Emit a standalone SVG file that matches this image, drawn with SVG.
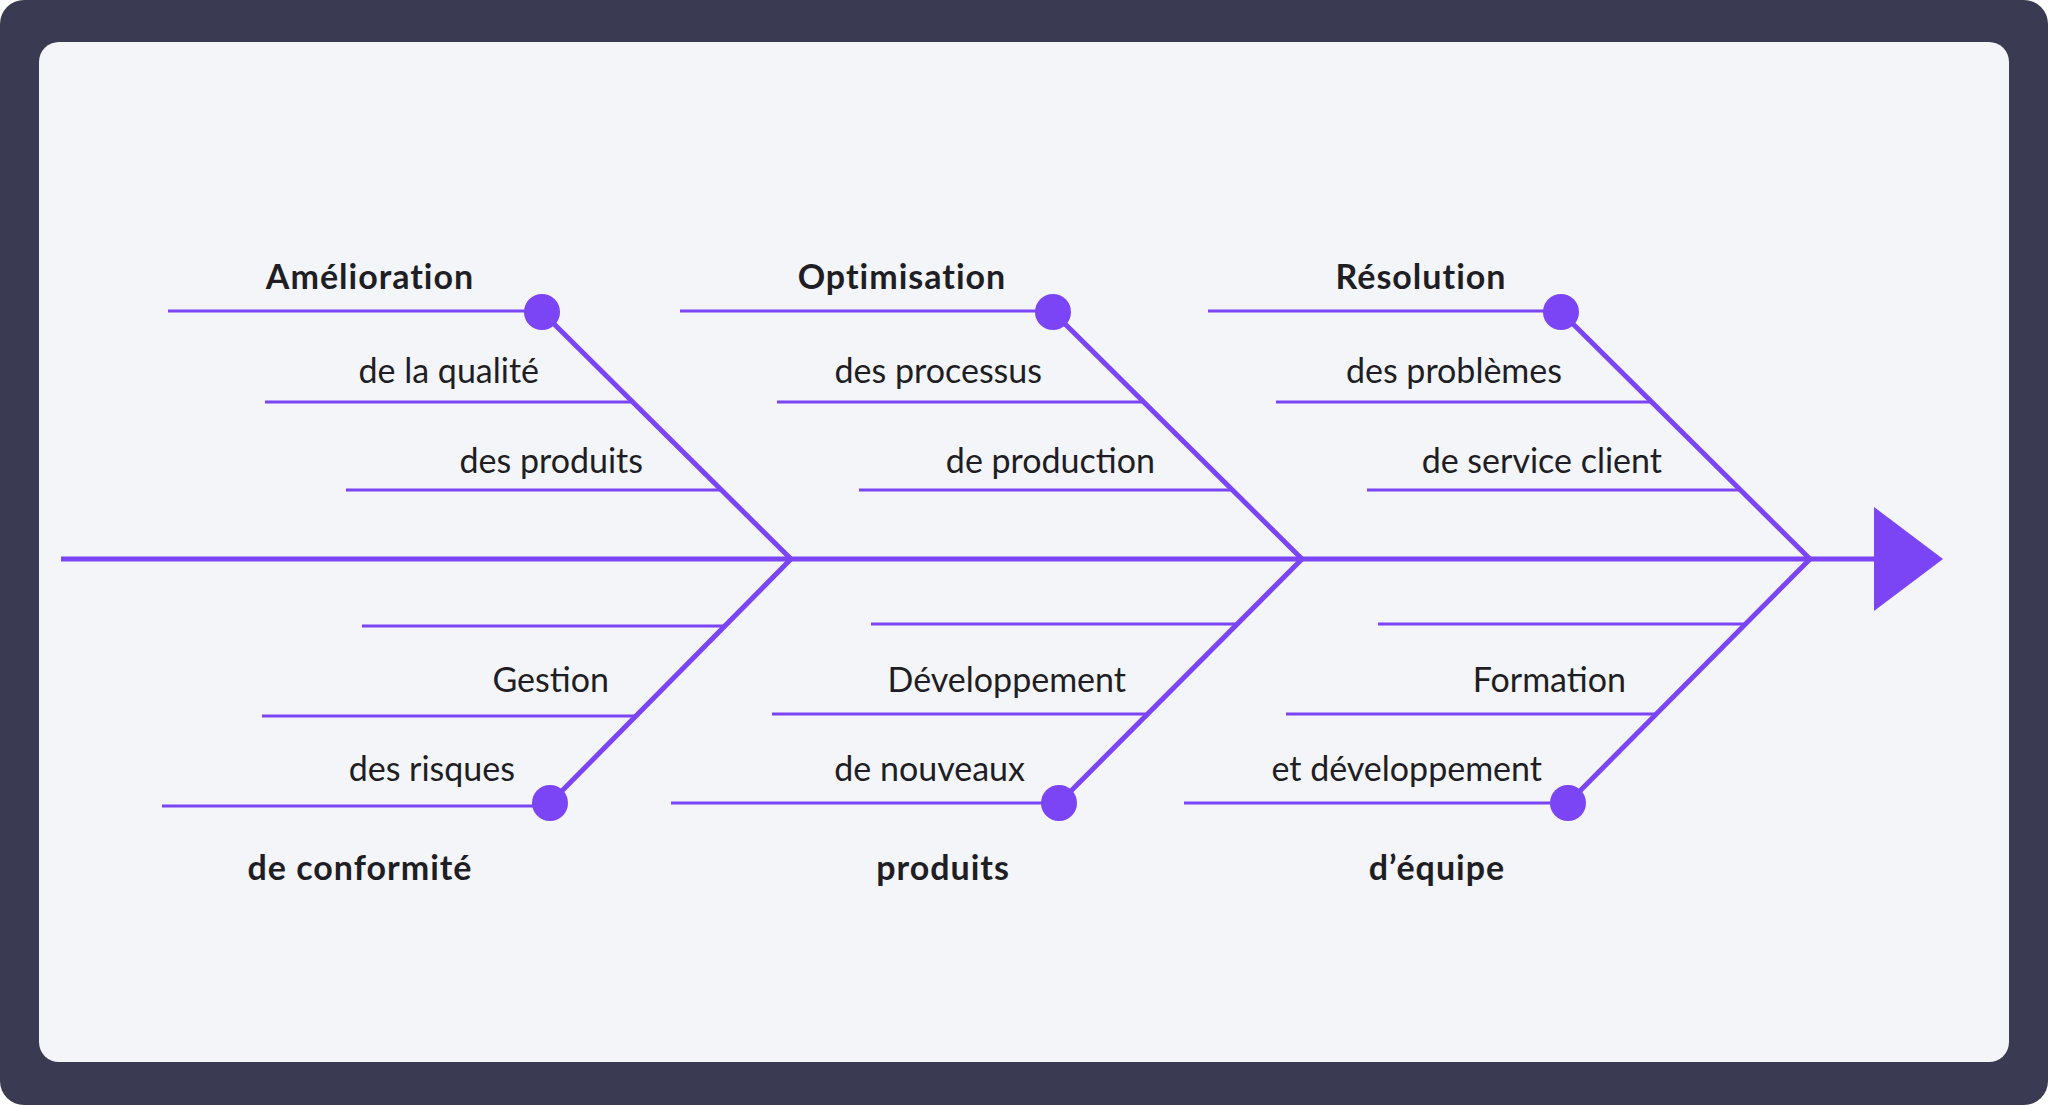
<svg xmlns="http://www.w3.org/2000/svg" width="2048" height="1105" viewBox="0 0 2048 1105">
<style>
.t{font-family:Lato,"Liberation Sans",sans-serif;font-size:34px;fill:#1e1e24;text-anchor:end}
.h{font-family:Lato,"Liberation Sans",sans-serif;font-size:34px;font-weight:bold;fill:#1e1e24;text-anchor:middle;letter-spacing:1px}
.thin{stroke:#7b44f5;stroke-width:3;fill:none}
.thick{stroke:#7b44f5;stroke-width:5;fill:none}
.dot{fill:#7b44f5}
</style>
<rect x="0" y="0" width="2048" height="1105" rx="24" fill="#3a3a52"/>
<rect x="39" y="42" width="1970" height="1020" rx="20" fill="#f4f5f9"/>
<g id="connectors">
<line class="thick" x1="61" y1="559" x2="1880" y2="559" stroke-width="6"/>
<polygon class="dot" points="1874,507 1943,559 1874,611"/>
<line class="thick" x1="542" y1="312" x2="791" y2="559"/>
<line class="thick" x1="1053" y1="312" x2="1302" y2="559"/>
<line class="thick" x1="1561" y1="312" x2="1810" y2="559"/>
<line class="thick" x1="550" y1="803" x2="791" y2="559"/>
<line class="thick" x1="1059" y1="803" x2="1302" y2="559"/>
<line class="thick" x1="1568" y1="803" x2="1810" y2="559"/>
</g>
<g id="branch1-top">
<line class="thin" x1="168" y1="311" x2="542" y2="311"/>
<line class="thin" x1="265" y1="402" x2="633" y2="402"/>
<line class="thin" x1="346" y1="490" x2="721" y2="490"/>
<circle class="dot" cx="542" cy="312" r="18"/>
<text class="h" x="370" y="289">Amélioration</text>
<text class="t" x="539" y="383">de la qualité</text>
<text class="t" x="643" y="473">des produits</text>
</g>
<g id="branch2-top">
<line class="thin" x1="680" y1="311" x2="1053" y2="311"/>
<line class="thin" x1="777" y1="402" x2="1144" y2="402"/>
<line class="thin" x1="859" y1="490" x2="1232" y2="490"/>
<circle class="dot" cx="1053" cy="312" r="18"/>
<text class="h" x="902" y="289">Optimisation</text>
<text class="t" x="1042" y="383">des processus</text>
<text class="t" x="1155" y="473">de production</text>
</g>
<g id="branch3-top">
<line class="thin" x1="1208" y1="311" x2="1561" y2="311"/>
<line class="thin" x1="1276" y1="402" x2="1652" y2="402"/>
<line class="thin" x1="1367" y1="490" x2="1740" y2="490"/>
<circle class="dot" cx="1561" cy="312" r="18"/>
<text class="h" x="1421" y="289">Résolution</text>
<text class="t" x="1562" y="383">des problèmes</text>
<text class="t" x="1662" y="473">de service client</text>
</g>
<g id="branch1-bottom">
<line class="thin" x1="362" y1="626" x2="725" y2="626"/>
<line class="thin" x1="262" y1="716" x2="635" y2="716"/>
<line class="thin" x1="162" y1="806" x2="550" y2="806"/>
<circle class="dot" cx="550" cy="803" r="18"/>
<text class="t" x="609" y="692">Gestion</text>
<text class="t" x="515" y="781">des risques</text>
<text class="h" x="360" y="880">de conformité</text>
</g>
<g id="branch2-bottom">
<line class="thin" x1="871" y1="624" x2="1237" y2="624"/>
<line class="thin" x1="772" y1="714" x2="1146" y2="714"/>
<line class="thin" x1="671" y1="803" x2="1059" y2="803"/>
<circle class="dot" cx="1059" cy="803" r="18"/>
<text class="t" x="1126" y="692">Développement</text>
<text class="t" x="1025" y="781">de nouveaux</text>
<text class="h" x="943" y="880">produits</text>
</g>
<g id="branch3-bottom">
<line class="thin" x1="1378" y1="624" x2="1745" y2="624"/>
<line class="thin" x1="1286" y1="714" x2="1655" y2="714"/>
<line class="thin" x1="1184" y1="803" x2="1568" y2="803"/>
<circle class="dot" cx="1568" cy="803" r="18"/>
<text class="t" x="1626" y="692">Formation</text>
<text class="t" x="1542" y="781">et développement</text>
<text class="h" x="1437" y="880">d’équipe</text>
</g>
</svg>
